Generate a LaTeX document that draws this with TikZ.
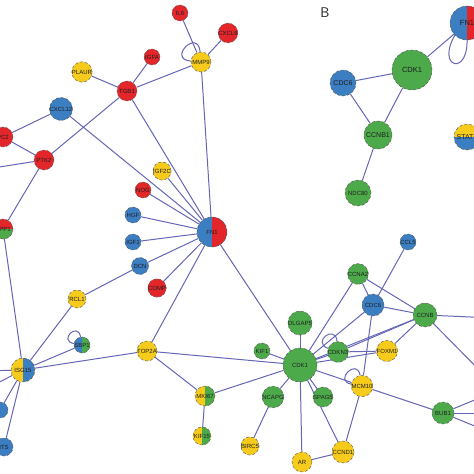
\documentclass[tikz,border=0pt]{standalone}
\usepackage{fontspec}
\setmainfont{Liberation Sans}
\definecolor{GeneRed}{rgb}{0.890,0.150,0.165}
\definecolor{GeneGreen}{rgb}{0.302,0.667,0.290}
\definecolor{GeneBlue}{rgb}{0.235,0.494,0.761}
\definecolor{GeneYellow}{rgb}{0.965,0.796,0.110}
\definecolor{LinkPurple}{rgb}{0.400,0.400,0.720}
\definecolor{Rim}{rgb}{0.35,0.35,0.35}
\definecolor{Ink}{rgb}{0.12,0.12,0.12}
\pgfdeclarelayer{edges}
\pgfsetlayers{edges,main}
\tikzset{
  gene/.style={circle, draw=Rim, line width=0.45pt, densely dashed, inner sep=0pt,
    minimum size=#1, text=Ink, font=\fontsize{6}{6}\selectfont},
  halfv/.style 2 args={fill=#1, path picture={\fill[#2] (path picture bounding box.north)
    rectangle (path picture bounding box.south east);}},
  halfh/.style 2 args={fill=#1, path picture={\fill[#2] (path picture bounding box.west)
    rectangle (path picture bounding box.south east);}},
  link/.style={draw=LinkPurple, line width=1pt},
}

\begin{document}
\begin{tikzpicture}[x=1pt, y=-1pt]

\useasboundingbox (0,0) rectangle (474,474);

% ============================================================
% PANEL (A): upper-left cluster (red / yellow)
% ============================================================
\node[gene=16, fill=GeneRed] (IL6) at (180,13) {IL6};
\node[gene=16, fill=GeneRed] (CXCL6) at (228,33) {CXCL6};
\node[gene=20, fill=GeneYellow] (MMP9) at (201,62) {MMP9};
\node[gene=16, fill=GeneRed] (IGFA) at (152,57) {IGFA};
\node[gene=17, fill=GeneYellow] (PLAUR) at (82,72) {PLAUR};
\node[gene=20, fill=GeneRed] (TGB1) at (127,91) {TGB1};
\node[gene=18, fill=GeneBlue] (CXCL12) at (61,109) {CXCL12};
\node[gene=20, fill=GeneRed] (PC2) at (3,137) {PC2};
\node[gene=20, fill=GeneRed] (PTK2) at (44,160) {PTK2};
\node[gene=20, halfh={GeneRed}{GeneGreen}] (SPP1) at (3,229) {SPP1};

% free ends running off the left edge
\coordinate (offPTK) at (-20,170);
\coordinate (offISGa) at (-20,371);
\coordinate (offISGb) at (-20,392);

% ============================================================
% FN1 hub and its satellites
% ============================================================
\node[gene=30, halfv={GeneBlue}{GeneRed}] (FN1) at (212,232) {FN1};
\node[gene=16, fill=GeneYellow] (IGF2C) at (162,171) {IGF2C};
\node[gene=16, fill=GeneRed] (NOG) at (143,190) {NOG};
\node[gene=16, fill=GeneBlue] (HGF) at (133,215) {HGF};
\node[gene=16, fill=GeneBlue] (IGF1) at (133,242) {IGF1};
\node[gene=17, fill=GeneBlue] (DCN) at (140,266) {DCN};
\node[gene=16, fill=GeneRed] (COMP) at (157,288) {COMP};

% ============================================================
% lower-left cluster around ISG15
% ============================================================
\node[gene=18, fill=GeneYellow] (RCL1) at (77,299) {RCL1};
\node[gene=24, halfv={GeneYellow}{GeneBlue}] (ISG15) at (23,370) {ISG15};
\node[gene=16, halfv={GeneBlue}{GeneGreen}] (SBP1) at (82,345) {SBP1};
\node[gene=20, fill=GeneYellow] (TOP2A) at (147,351) {TOP2A};
\node[gene=16, fill=GeneBlue] (BLU) at (0,410) {};
\node[gene=18, fill=GeneBlue] (ITS) at (4,447) {ITS};

% ============================================================
% CDK1 hub (lower middle / right)
% ============================================================
\node[gene=34, fill=GeneGreen] (CDK1) at (300,365) {CDK1};
\node[gene=18, fill=GeneGreen] (DLGAP5) at (300,323) {DLGAP5};
\node[gene=16, fill=GeneGreen] (KIF1) at (262,351) {KIF1};
\node[gene=20, halfv={GeneYellow}{GeneGreen}] (MKI67) at (205,396) {MKI67};
\node[gene=18, halfv={GeneYellow}{GeneGreen}] (KIF15) at (202,436) {KIF15};
\node[gene=18, fill=GeneGreen] (NCAPG) at (273,397) {NCAPG};
\node[gene=18, fill=GeneYellow] (BIRC5) at (250,446) {BIRC5};
\node[gene=20, fill=GeneYellow] (AR) at (302,462) {AR};
\node[gene=18, fill=GeneGreen] (SPAG5) at (323,397) {SPAG5};
\node[gene=18, fill=GeneGreen] (CDKN3) at (338,352) {CDKN3};
\node[gene=18, fill=GeneYellow] (FOXM1) at (387,351) {FOXM1};
\node[gene=20, fill=GeneYellow] (MCM10) at (362,386) {MCM10};
\node[gene=22, fill=GeneYellow] (CCND1) at (343,452) {CCND1};
\node[gene=22, fill=GeneGreen] (BUB1) at (443,413) {BUB1};
\node[gene=24, fill=GeneGreen] (CCNB) at (425,315) {CCNB};
\node[gene=22, fill=GeneBlue] (CDC6) at (373,305) {CDC6};
\node[gene=20, fill=GeneGreen] (CCNA2) at (358,274) {CCNA2};
\node[gene=16, fill=GeneBlue] (CCL5) at (408,242) {CCL5};
\node[gene=26, fill=GeneGreen] (NDC80) at (358,193) {NDC80};

% free ends running off the right edge
\coordinate (offCCNa) at (494,318);
\coordinate (offCCNb) at (494,385);
\coordinate (offBUBa) at (494,392);
\coordinate (offBUBb) at (494,413);
\coordinate (offBUBc) at (494,434);

% ============================================================
% PANEL (B)
% ============================================================
\node[font=\sffamily\fontsize{14}{14}\selectfont, text=Ink] (labB) at (325,13) {B};
\node[gene=34, halfv={GeneBlue}{GeneRed}, font=\fontsize{7.5}{8}\selectfont] (FNb) at (467,23) {FN1};
\node[gene=40, fill=GeneGreen, font=\fontsize{7.5}{8}\selectfont] (CDKb) at (412,70) {CDK1};
\node[gene=26, fill=GeneBlue, font=\fontsize{7}{8}\selectfont] (CDCb) at (343,83) {CDC6};
\node[gene=28, fill=GeneGreen, font=\fontsize{7}{8}\selectfont] (CCNBb) at (378,135) {CCNB1};
\node[gene=26, halfh={GeneYellow}{GeneBlue}, font=\fontsize{7}{8}\selectfont] (STA) at (467,137) {STAT1};

% ============================================================
% connectors (behind the nodes)
% ============================================================
\begin{pgfonlayer}{edges}
\fill[white] (0,0) rectangle (474,474);
\foreach \a/\b in {IL6/MMP9, CXCL6/MMP9, TGB1/MMP9, MMP9/FN1, PLAUR/TGB1, IGFA/TGB1,
    TGB1/PTK2, TGB1/FN1, CXCL12/PC2, CXCL12/FN1, PC2/PTK2, PTK2/SPP1, PTK2/offPTK,
    SPP1/ISG15, IGF2C/FN1, NOG/FN1, HGF/FN1, IGF1/FN1, DCN/FN1, COMP/FN1,
    DCN/RCL1, RCL1/ISG15, ISG15/SBP1, ISG15/TOP2A, ISG15/offISGa, ISG15/offISGb,
    ISG15/BLU, ISG15/ITS, TOP2A/FN1, TOP2A/CDK1, TOP2A/MKI67, FN1/CDK1}
  \draw[link] (\a) -- (\b);
\foreach \a/\b in {MKI67/KIF15, MKI67/CDK1, KIF1/CDK1, DLGAP5/CDK1, NCAPG/CDK1,
    NCAPG/BIRC5, SPAG5/CDK1, AR/CDK1, AR/CCND1, CCND1/CDK1, CCND1/MCM10, MCM10/CDK1,
    MCM10/BUB1, MCM10/CDC6, CDKN3/CDK1, FOXM1/CDK1, FOXM1/CDKN3, FOXM1/CCNB, CDKN3/CCNB,
    CDK1/CCNB, CDK1/CDC6, CDK1/CCNA2, CDC6/CCNA2, CDC6/CCNB, CCNA2/CCNB, CCL5/CDC6,
    CCNB/offCCNa, CCNB/offCCNb, BUB1/offBUBa, BUB1/offBUBb, BUB1/offBUBc,
    NDC80/CCNBb, FNb/CDKb, CDKb/CDCb, CDKb/CCNBb, CDCb/CCNBb}
  \draw[link] (\a) -- (\b);
% self loops
\draw[link] (MMP9) to[out=175, in=95, min distance=24pt] (MMP9);
\draw[link] (SBP1) to[out=170, in=100, min distance=16pt] (SBP1);
\draw[link] (CDKN3) to[out=160, in=95, min distance=18pt] (CDKN3);
\draw[link] (MCM10) to[out=170, in=100, min distance=18pt] (MCM10);
\draw[link] (FNb.south west) .. controls (436,68) and (468,76) .. (FNb.south);
\end{pgfonlayer}

\end{tikzpicture}
\end{document}
